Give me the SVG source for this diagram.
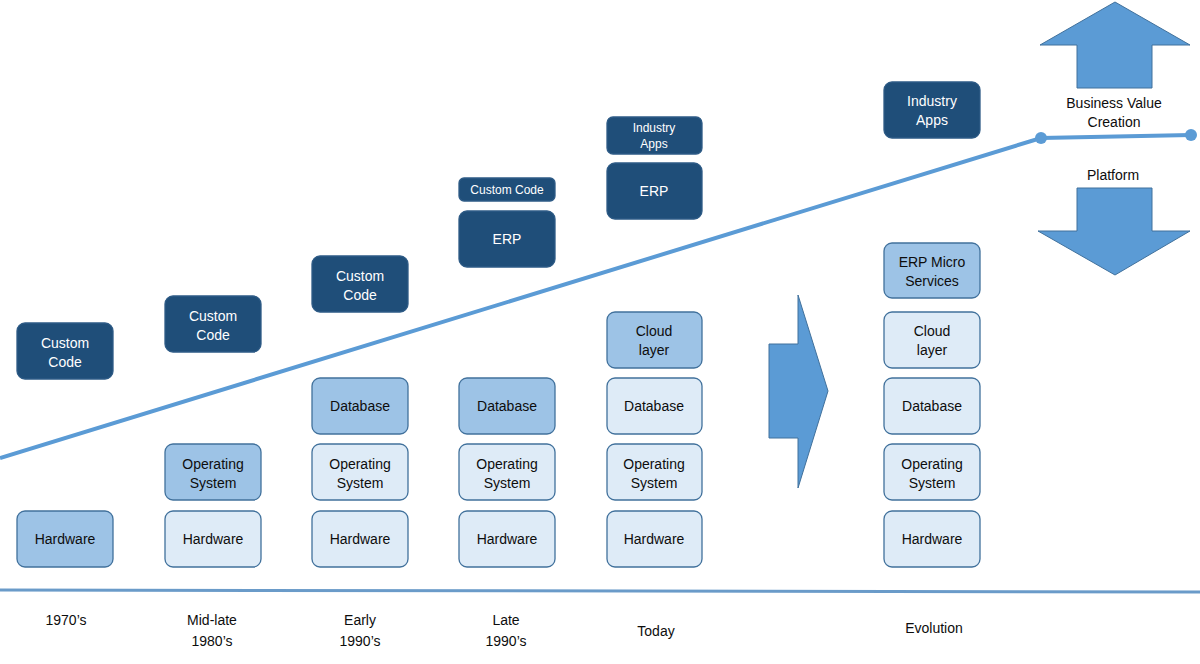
<svg xmlns="http://www.w3.org/2000/svg" width="1200" height="664" viewBox="0 0 1200 664">
<style>
.b{stroke-width:1.3}
.dk{fill:#1f4e79;stroke:#2e5b86}
.md{fill:#9dc3e6;stroke:#41719c}
.lt{fill:#deebf7;stroke:#41719c}
text{font-family:"Liberation Sans","Open Sans",Arial,sans-serif;font-size:14px;text-anchor:middle}
.w{fill:#ffffff}
.k{fill:#0d0d0d}
.s{font-size:12px}
.ln{stroke:#5b9bd5;fill:none}
.ar{fill:#5b9bd5;stroke:#41719c;stroke-width:1}
</style>
<rect width="1200" height="664" fill="#ffffff"/>
<g id="connectors">
<line class="ln" x1="0" y1="590" x2="1200" y2="592" stroke-width="3" style="stroke:#6a9bc9"/>
<polyline class="ln" points="0,458 1041,138 1191,135" stroke-width="4"/>
<circle cx="1041" cy="138" r="6" fill="#5b9bd5"/>
<circle cx="1191" cy="135" r="6" fill="#5b9bd5"/>
</g>
<g id="arrow-right"><polygon class="ar" points="769,344 798,344 798,295 828,391 798,488 798,438 769,438"/></g>
<g id="arrow-up"><polygon class="ar" points="1077,88 1077,45 1040,45 1115,2 1190,45 1152,45 1152,88"/></g>
<g id="arrow-down"><polygon class="ar" points="1077,188 1152,188 1152,231 1190,231 1115,275 1038,231 1077,231"/></g>
<g id="label-bvc"><text class="k" x="1114" y="108">Business Value</text><text class="k" x="1114" y="127">Creation</text></g>
<g id="label-platform"><text class="k" x="1113" y="180">Platform</text></g>

<g id="c1-code"><rect class="b dk" x="17" y="323" width="96" height="56" rx="8"/><text class="w" x="65" y="348">Custom</text><text class="w" x="65" y="367">Code</text></g>
<g id="c1-hw"><rect class="b md" x="17" y="511" width="96" height="56" rx="8"/><text class="k" x="65" y="544">Hardware</text></g>

<g id="c2-code"><rect class="b dk" x="165" y="296" width="96" height="56" rx="8"/><text class="w" x="213" y="321">Custom</text><text class="w" x="213" y="340">Code</text></g>
<g id="c2-os"><rect class="b md" x="165" y="444" width="96" height="56" rx="8"/><text class="k" x="213" y="469">Operating</text><text class="k" x="213" y="488">System</text></g>
<g id="c2-hw"><rect class="b lt" x="165" y="511" width="96" height="56" rx="8"/><text class="k" x="213" y="544">Hardware</text></g>

<g id="c3-code"><rect class="b dk" x="312" y="256" width="96" height="56" rx="8"/><text class="w" x="360" y="281">Custom</text><text class="w" x="360" y="300">Code</text></g>
<g id="c3-db"><rect class="b md" x="312" y="378" width="96" height="56" rx="8"/><text class="k" x="360" y="411">Database</text></g>
<g id="c3-os"><rect class="b lt" x="312" y="444" width="96" height="56" rx="8"/><text class="k" x="360" y="469">Operating</text><text class="k" x="360" y="488">System</text></g>
<g id="c3-hw"><rect class="b lt" x="312" y="511" width="96" height="56" rx="8"/><text class="k" x="360" y="544">Hardware</text></g>

<g id="c4-code"><rect class="b dk" x="459" y="178" width="96" height="23" rx="5"/><text class="w s" x="507" y="194">Custom Code</text></g>
<g id="c4-erp"><rect class="b dk" x="459" y="211" width="96" height="56" rx="8"/><text class="w" x="507" y="244">ERP</text></g>
<g id="c4-db"><rect class="b md" x="459" y="378" width="96" height="56" rx="8"/><text class="k" x="507" y="411">Database</text></g>
<g id="c4-os"><rect class="b lt" x="459" y="444" width="96" height="56" rx="8"/><text class="k" x="507" y="469">Operating</text><text class="k" x="507" y="488">System</text></g>
<g id="c4-hw"><rect class="b lt" x="459" y="511" width="96" height="56" rx="8"/><text class="k" x="507" y="544">Hardware</text></g>

<g id="c5-apps"><rect class="b dk" x="607" y="117" width="95" height="37" rx="6"/><text class="w s" x="654" y="132">Industry</text><text class="w s" x="654" y="148">Apps</text></g>
<g id="c5-erp"><rect class="b dk" x="607" y="163" width="95" height="56" rx="8"/><text class="w" x="654" y="196">ERP</text></g>
<g id="c5-cloud"><rect class="b md" x="607" y="312" width="95" height="56" rx="8"/><text class="k" x="654" y="336">Cloud</text><text class="k" x="654" y="355">layer</text></g>
<g id="c5-db"><rect class="b lt" x="607" y="378" width="95" height="56" rx="8"/><text class="k" x="654" y="411">Database</text></g>
<g id="c5-os"><rect class="b lt" x="607" y="444" width="95" height="56" rx="8"/><text class="k" x="654" y="469">Operating</text><text class="k" x="654" y="488">System</text></g>
<g id="c5-hw"><rect class="b lt" x="607" y="511" width="95" height="56" rx="8"/><text class="k" x="654" y="544">Hardware</text></g>

<g id="c6-apps"><rect class="b dk" x="884" y="82" width="96" height="56" rx="8"/><text class="w" x="932" y="106">Industry</text><text class="w" x="932" y="125">Apps</text></g>
<g id="c6-erp"><rect class="b md" x="884" y="243" width="96" height="55" rx="8"/><text class="k" x="932" y="267">ERP Micro</text><text class="k" x="932" y="286">Services</text></g>
<g id="c6-cloud"><rect class="b lt" x="884" y="312" width="96" height="56" rx="8"/><text class="k" x="932" y="336">Cloud</text><text class="k" x="932" y="355">layer</text></g>
<g id="c6-db"><rect class="b lt" x="884" y="378" width="96" height="56" rx="8"/><text class="k" x="932" y="411">Database</text></g>
<g id="c6-os"><rect class="b lt" x="884" y="444" width="96" height="56" rx="8"/><text class="k" x="932" y="469">Operating</text><text class="k" x="932" y="488">System</text></g>
<g id="c6-hw"><rect class="b lt" x="884" y="511" width="96" height="56" rx="8"/><text class="k" x="932" y="544">Hardware</text></g>

<g id="era-labels">
<text class="k" x="66" y="625">1970’s</text>
<text class="k" x="212" y="625">Mid-late</text><text class="k" x="212" y="646">1980’s</text>
<text class="k" x="360" y="625">Early</text><text class="k" x="360" y="646">1990’s</text>
<text class="k" x="506" y="625">Late</text><text class="k" x="506" y="646">1990’s</text>
<text class="k" x="656" y="636">Today</text>
<text class="k" x="934" y="633">Evolution</text>
</g>
</svg>
